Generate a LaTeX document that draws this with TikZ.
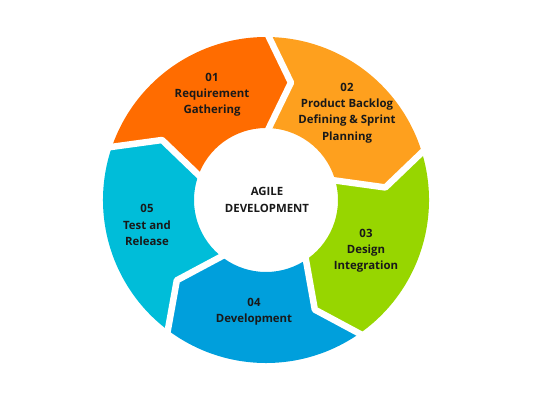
\documentclass[tikz,border=0pt]{standalone}
\usepackage{fontspec}
\setmainfont{Open Sans}
\usepackage{tikz}

\definecolor{phaseA}{HTML}{FF6C00}
\definecolor{phaseB}{HTML}{FEA01E}
\definecolor{phaseC}{HTML}{97D600}
\definecolor{phaseD}{HTML}{009FDC}
\definecolor{phaseE}{HTML}{00BDD9}

\begin{document}
\begin{tikzpicture}[
            x=1pt, y=1pt,
            phase label/.style={font=\bfseries\fontsize{11.4}{16.2}\selectfont,align=center,text=black!90},
            gap line/.style={white,line width=6.5pt,line join=round},
            ]
            \useasboundingbox (-266,-200) rectangle (268,200);
            \def\Rout{163}
            \def\Rin{72}
            \def\Rmid{120}
            \def\tip{12}

            % ring pieces, each one ending in a point
            \foreach \a/\col in {162/phaseA, 90/phaseB, 18/phaseC, -54/phaseD, -126/phaseE}{
                \pgfmathsetmacro{\b}{\a-72}
                \pgfmathsetmacro{\t}{\a-72-\tip}
                \fill[\col] (\a:\Rout) arc[start angle=\a, end angle=\b, radius=\Rout]
                    -- (\t:\Rmid) -- (\b:\Rin) arc[start angle=\b, end angle=\a, radius=\Rin]
                    -- ({\a-\tip}:\Rmid) -- cycle;
            }
            \foreach \a in {162, 90, 18, -54, -126}{
                \pgfmathsetmacro{\t}{\a-\tip}
                \draw[gap line] (\a:\Rout+6) -- (\t:\Rmid) -- (\a:\Rin-6);
            }

            \node[phase label] (hub) at (1,0) {AGILE\\DEVELOPMENT};
            \node[phase label] (lbl1) at (-54,105) {01\\Requirement\\Gathering};
            \node[phase label] (lbl2) at (81,87) {02\\Product Backlog\\Defining \& Sprint\\Planning};
            \node[phase label] (lbl3) at (100,-51) {03\\Design\\Integration};
            \node[phase label] (lbl4) at (-12,-112) {04\\Development};
            \node[phase label] (lbl5) at (-119,-25) {05\\Test and\\Release};
        \end{tikzpicture}
\end{document}
